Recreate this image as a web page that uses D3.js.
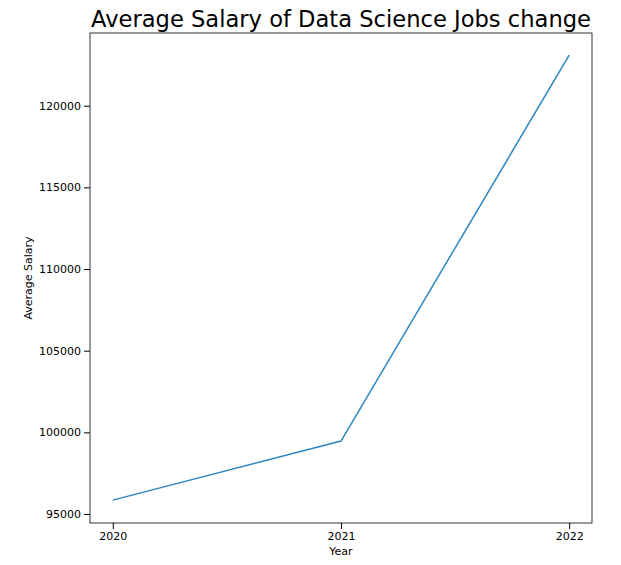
<!DOCTYPE html>
<html><head><meta charset="utf-8">
<script src="https://cdn.jsdelivr.net/npm/d3@7"></script>
<style>body{margin:0;background:#fff}text{font-family:"DejaVu Sans",sans-serif}</style>
</head><body>
<svg id="c" width="621" height="565"></svg>
<script>
const years = [2020, 2021, 2022];
const salaries = [95850, 99470, 123100];
const yTicks = [95000, 100000, 105000, 110000, 115000, 120000];
const xTicks = [2020, 2021, 2022];

const svg = d3.select("#c");
const L = 90, R = 592, T = 33, B = 523;
const x = d3.scaleLinear().domain([2019.9, 2022.1]).range([L, R]);
const y = d3.scaleLinear().domain([94450, 124450]).range([B, T]);

svg.append("text").attr("x", (L+R)/2).attr("y", 27).attr("text-anchor","middle")
  .attr("font-size", 22.6).text("Average Salary of Data Science Jobs change");

const gx = svg.append("g").attr("transform", `translate(0,${B})`)
  .call(d3.axisBottom(x).tickValues(xTicks).tickFormat(d3.format("d")).tickSizeOuter(0));
const gy = svg.append("g").attr("transform", `translate(${L},0)`)
  .call(d3.axisLeft(y).tickValues(yTicks).tickFormat(d3.format("d")).tickSizeOuter(0));
[gx, gy].forEach(g => { g.selectAll("text").attr("font-size", 11).attr("fill","#000"); g.select(".domain").remove(); });

svg.append("rect").attr("x", L).attr("y", T).attr("width", R-L).attr("height", B-T)
  .attr("fill","none").attr("stroke","#000").attr("stroke-width",0.8);

svg.append("text").attr("x",(L+R)/2).attr("y",555).attr("text-anchor","middle").attr("font-size",11).text("Year");
svg.append("text").attr("transform",`translate(32,${(T+B)/2}) rotate(-90)`).attr("text-anchor","middle").attr("font-size",11).text("Average Salary");

svg.append("path").datum(years.map((d,i)=>[d, salaries[i]]))
  .attr("fill","none").attr("stroke","#2e86c1").attr("stroke-width",1.5)
  .attr("d", d3.line().x(d=>x(d[0])).y(d=>y(d[1])));
</script>
</body></html>
